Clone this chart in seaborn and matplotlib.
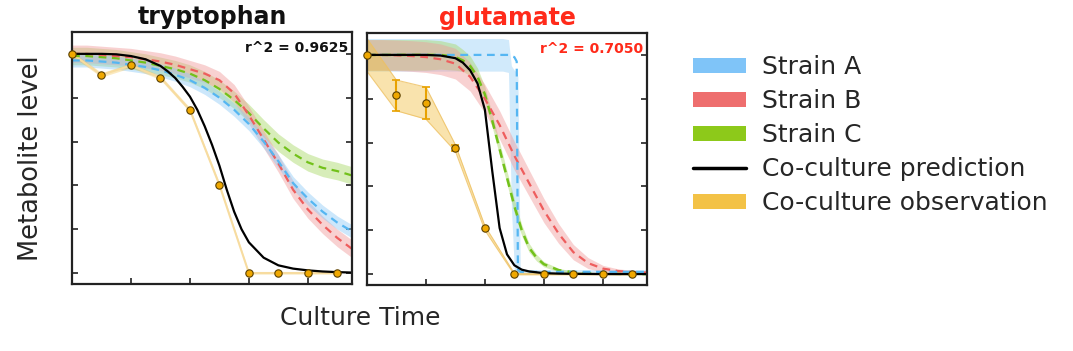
import numpy as np
import pandas as pd
import seaborn as sns
import matplotlib.pyplot as plt
from matplotlib.patches import Patch
from matplotlib.lines import Line2D

# shared time grid (culture time, arbitrary units)
t = [0, 0.5, 1, 1.5, 2, 2.5, 3, 3.5, 4, 4.5, 5, 5.5, 6, 6.5, 7, 7.5, 8, 8.5, 9, 9.5]
t_obs = [0, 1, 2, 3, 4, 5, 6, 7, 8, 9]

# ---- tryptophan ----
trp_a = [0.97, 0.97, 0.965, 0.96, 0.95, 0.94, 0.925, 0.905, 0.88, 0.845, 0.80, 0.745, 0.68, 0.60, 0.51, 0.41, 0.34, 0.28, 0.23, 0.19]
trp_b = [1.0, 1.0, 0.995, 0.99, 0.985, 0.975, 0.965, 0.95, 0.93, 0.91, 0.88, 0.82, 0.72, 0.61, 0.50, 0.38, 0.29, 0.22, 0.16, 0.11]
trp_c = [0.99, 0.99, 0.985, 0.98, 0.97, 0.96, 0.945, 0.93, 0.91, 0.88, 0.84, 0.79, 0.73, 0.66, 0.595, 0.545, 0.505, 0.48, 0.465, 0.445]
t_trp_pred = [0, 0.5, 1, 1.5, 2, 2.5, 3, 3.25, 3.5, 3.75, 4, 4.25, 4.5, 4.75, 5, 5.25, 5.5, 5.75, 6, 6.5, 7, 7.5, 8, 8.5, 9, 9.5]
trp_pred = [1.0, 1.0, 1.0, 0.998, 0.99, 0.975, 0.945, 0.92, 0.89, 0.85, 0.805, 0.745, 0.67, 0.585, 0.49, 0.38, 0.28, 0.20, 0.14, 0.07, 0.035, 0.02, 0.012, 0.007, 0.004, 0.002]
trp_obs = [1.0, 0.904, 0.947, 0.892, 0.744, 0.402, 0.0, 0.0, 0.0, 0.0]
trp_obs_err = [0.01, 0.01, 0.01, 0.01, 0.01, 0.01, 0.005, 0.005, 0.005, 0.005]
trp_a_err = 0.03
trp_b_err = 0.04
trp_c_err = 0.04

# ---- glutamate ----
t_glu_a = [0, 1, 2, 3, 4, 4.6, 4.8, 4.9, 5.0, 5.08, 5.12, 5.2, 5.4, 6, 7, 8, 9, 9.5]
glu_a = [1.0, 1.0, 1.0, 1.0, 1.0, 1.0, 1.0, 0.995, 0.99, 0.97, 0.02, 0.01, 0.01, 0.01, 0.01, 0.01, 0.01, 0.01]
glu_a_hi = [1.075, 1.075, 1.075, 1.075, 1.075, 1.075, 1.07, 0.95, 0.93, 0.92, 0.9, 0.03, 0.02, 0.02, 0.02, 0.02, 0.02, 0.02]
glu_a_lo = [0.926, 0.926, 0.926, 0.926, 0.926, 0.926, 0.92, 0.3, 0.02, 0.0, 0.0, 0.0, 0.0, 0.0, 0.0, 0.0, 0.0, 0.0]

glu_b = [1.0, 1.0, 0.998, 0.995, 0.99, 0.98, 0.96, 0.90, 0.80, 0.68, 0.54, 0.415, 0.29, 0.185, 0.10, 0.05, 0.025, 0.014, 0.009, 0.007]
glu_b_err = [0.07, 0.07, 0.07, 0.07, 0.07, 0.07, 0.07, 0.065, 0.065, 0.065, 0.065, 0.06, 0.055, 0.045, 0.035, 0.025, 0.015, 0.01, 0.008, 0.006]

t_glu_c = [0, 0.5, 1, 1.5, 2, 2.5, 3, 3.25, 3.5, 3.75, 4, 4.25, 4.5, 4.75, 5, 5.25, 5.5, 5.75, 6, 6.5, 7, 7.5, 8, 8.5, 9, 9.5]
glu_c = [1.0, 1.0, 1.0, 1.0, 1.0, 1.0, 0.99, 0.975, 0.95, 0.90, 0.82, 0.70, 0.57, 0.44, 0.31, 0.20, 0.12, 0.075, 0.045, 0.018, 0.008, 0.004, 0.002, 0.001, 0.0, 0.0]
glu_c_err = [0.07, 0.07, 0.07, 0.07, 0.07, 0.065, 0.06, 0.05, 0.045, 0.04, 0.035, 0.03, 0.03, 0.03, 0.03, 0.025, 0.02, 0.015, 0.012, 0.008, 0.005, 0.004, 0.003, 0.003, 0.003, 0.003]

t_glu_pred = [0, 0.5, 1, 1.5, 2, 2.5, 3, 3.25, 3.5, 3.75, 4, 4.25, 4.5, 4.75, 5, 5.25, 5.5, 6, 6.5, 7, 8, 9, 9.5]
glu_pred = [1.0, 1.0, 1.0, 1.0, 1.0, 0.997, 0.985, 0.965, 0.93, 0.87, 0.75, 0.47, 0.21, 0.09, 0.04, 0.02, 0.012, 0.004, 0.002, 0.001, 0.0, 0.0, 0.0]

glu_obs = [1.0, 0.815, 0.78, 0.575, 0.21, 0.0, 0.0, 0.0, 0.0, 0.0]
glu_obs_err = [0.075, 0.07, 0.073, 0.015, 0.01, 0.003, 0.003, 0.003, 0.003, 0.003]

# colours
c_a, c_a_band = '#55b6f2', '#8ecbf7'
c_b, c_b_band = '#ee5d5d', '#f19a9a'
c_c, c_c_band = '#72c11a', '#a8d865'
c_obs_band, c_obs_pt = '#f3c14a', '#f0a800'

sns.set_style("white")
fig = plt.figure(figsize=(10.73, 3.51), dpi=100)
ax1 = fig.add_axes([0.0671, 0.191, 0.261, 0.718])
ax2 = fig.add_axes([0.342, 0.188, 0.261, 0.718])

dash = (0, (3.5, 2.5))


def band(ax, x, lo, hi, col, a=0.45):
    ax.fill_between(x, lo, hi, color=col, alpha=a, lw=0)


def finish(ax):
    ax.set_xlim(0, 9.5)
    ax.set_ylim(-0.05, 1.1)
    ax.set_xticks([2, 4, 6, 8])
    ax.set_yticks([0, 0.2, 0.4, 0.6, 0.8, 1.0])
    ax.tick_params(direction='in', length=4, width=1.2, left=True, right=True, bottom=True,
                   labelleft=False, labelbottom=False, color='#222222')
    for s in ax.spines.values():
        s.set_linewidth(1.6)
        s.set_color('#222222')
    ax.set_xlabel('')
    ax.set_ylabel('')


# tryptophan panel
ta = np.array(trp_a); tb = np.array(trp_b); tc = np.array(trp_c)
band(ax1, t, tc - trp_c_err, tc + trp_c_err, c_c_band)
band(ax1, t, tb - trp_b_err, tb + trp_b_err, c_b_band)
band(ax1, t, ta - trp_a_err, ta + trp_a_err, c_a_band)
ob = np.array(trp_obs); oe = np.array(trp_obs_err)
band(ax1, t_obs, ob - oe, ob + oe, c_obs_band, 0.35)
ax1.plot(t_obs, trp_obs, color='#f7dca0', lw=1.5, zorder=2)
sns.lineplot(x=t, y=trp_c, ax=ax1, color=c_c, lw=1.6, linestyle=dash)
sns.lineplot(x=t, y=trp_b, ax=ax1, color=c_b, lw=1.6, linestyle=dash)
sns.lineplot(x=t, y=trp_a, ax=ax1, color=c_a, lw=1.6, linestyle=dash)
sns.lineplot(x=t_trp_pred, y=trp_pred, ax=ax1, color='black', lw=1.6)
sns.scatterplot(x=t_obs, y=trp_obs, ax=ax1, color=c_obs_pt, edgecolor='#5a4000',
                linewidth=0.8, s=28, zorder=5, clip_on=False)
ax1.text(0.985, 0.935, 'r^2 = 0.9625', transform=ax1.transAxes, ha='right', va='center',
         fontsize=10, fontweight='bold', color='#111111')
ax1.set_title('tryptophan', fontsize=17, fontweight='bold', color='#111111', pad=6)
finish(ax1)

# glutamate panel
gb = np.array(glu_b); gbe = np.array(glu_b_err)
gc = np.array(glu_c); gce = np.array(glu_c_err)
go = np.array(glu_obs); goe = np.array(glu_obs_err)
band(ax2, t_glu_a, glu_a_lo, glu_a_hi, c_a_band, 0.4)
band(ax2, t_glu_c, gc - gce, gc + gce, c_c_band)
band(ax2, t, gb - gbe, gb + gbe, c_b_band)
band(ax2, t_obs, go - goe, go + goe, c_obs_band, 0.45)
ax2.plot(t_obs, go - goe, color='#eec060', lw=0.8, alpha=0.8)
ax2.plot(t_obs, go + goe, color='#eec060', lw=0.8, alpha=0.8)
sns.lineplot(x=t_glu_c, y=glu_c, ax=ax2, color=c_c, lw=1.8, linestyle=dash)
sns.lineplot(x=t, y=glu_b, ax=ax2, color=c_b, lw=1.6, linestyle=dash)
sns.lineplot(x=t_glu_a, y=glu_a, ax=ax2, color=c_a, lw=1.6, linestyle=dash)
sns.lineplot(x=t_glu_pred, y=glu_pred, ax=ax2, color='black', lw=1.6)
ax2.errorbar(t_obs[1:4], glu_obs[1:4], yerr=glu_obs_err[1:4], fmt='none', ecolor='#e8a200',
             elinewidth=1.5, capsize=3, capthick=1.2, zorder=4)
sns.scatterplot(x=t_obs, y=glu_obs, ax=ax2, color=c_obs_pt, edgecolor='#5a4000',
                linewidth=0.8, s=28, zorder=5, clip_on=False)
ax2.text(0.985, 0.935, 'r^2 = 0.7050', transform=ax2.transAxes, ha='right', va='center',
         fontsize=10, fontweight='bold', color='#ff2a1a')
ax2.set_title('glutamate', fontsize=17, fontweight='bold', color='#ff2a1a', pad=6)
finish(ax2)

fig.text(0.336, 0.095, 'Culture Time', ha='center', va='center', fontsize=18)
fig.text(0.029, 0.55, 'Metabolite level', ha='center', va='center', rotation=90, fontsize=18.5)

handles = [Patch(facecolor='#7fc4f8', edgecolor='none'),
           Patch(facecolor='#ee6e6e', edgecolor='none'),
           Patch(facecolor='#8dc91a', edgecolor='none'),
           Line2D([0], [0], color='black', lw=2.5),
           Patch(facecolor='#f3c246', edgecolor='none')]
labels = ['Strain A', 'Strain B', 'Strain C', 'Co-culture prediction', 'Co-culture observation']
fig.legend(handles, labels, loc='upper left', bbox_to_anchor=(0.646, 0.843), frameon=False,
           fontsize=18, handlelength=2.12, handleheight=0.56, handletextpad=0.64,
           labelspacing=0.4, borderpad=0, borderaxespad=0)

fig.savefig('out.png', dpi=100)
